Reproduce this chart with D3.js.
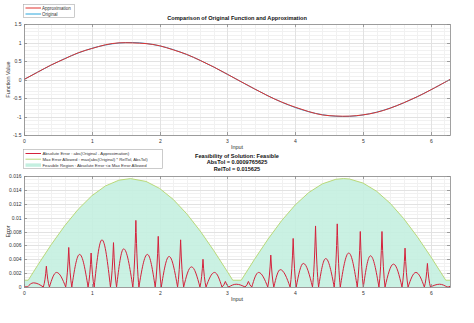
<!DOCTYPE html>
<html>
<head>
<meta charset="utf-8">
<script src="https://cdn.jsdelivr.net/npm/d3@7"></script>
<style>
  html, body { margin: 0; padding: 0; background: #ffffff; }
  svg { display: block; font-family: "Liberation Sans", Arial, sans-serif; }
</style>
</head>
<body>
<svg id="chart" width="474" height="323"></svg>
<script>
// ---- data -------------------------------------------------------------
const sampleX = [0, 0.2, 0.4, 0.6, 0.8, 1.0, 1.2, 1.4, 1.6, 1.8, 2.0, 2.2, 2.4, 2.6, 2.8, 3.0,
  3.2, 3.4, 3.6, 3.8, 4.0, 4.2, 4.4, 4.6, 4.8, 5.0, 5.2, 5.4, 5.6, 5.8, 6.0, 6.2, 6.2832];
const originalValues = [0, 0.1987, 0.3894, 0.5646, 0.7174, 0.8415, 0.9320, 0.9854, 0.9996, 0.9738,
  0.9093, 0.8085, 0.6755, 0.5155, 0.3350, 0.1411, -0.0584, -0.2555, -0.4425, -0.6119, -0.7568,
  -0.8716, -0.9516, -0.9937, -0.9962, -0.9589, -0.8835, -0.7728, -0.6313, -0.4646, -0.2794, -0.0831, 0];
const approxValues = [0, 0.196, 0.392, 0.559, 0.722, 0.837, 0.938, 0.990, 0.990, 0.970,
  0.912, 0.802, 0.678, 0.514, 0.337, 0.141, -0.058, -0.254, -0.444, -0.610, -0.749,
  -0.868, -0.957, -0.987, -0.991, -0.956, -0.888, -0.776, -0.630, -0.466, -0.280, -0.083, 0];

// Max error allowed : max(abs(Original) * RelTol, AbsTol)
const maxErrX = [0, 0.0625, 0.2, 0.4, 0.6, 0.8, 1.0, 1.2, 1.4, 1.5708, 1.8, 2.0, 2.2, 2.4, 2.6, 2.8, 3.0,
  3.079, 3.204, 3.4, 3.6, 3.8, 4.0, 4.2, 4.4, 4.6, 4.7124, 4.8, 5.0, 5.2, 5.4, 5.6, 5.8, 6.0, 6.2, 6.2207, 6.2832];
const maxErrValues = [0.000977, 0.000977, 0.003104, 0.006085, 0.008822, 0.011209, 0.013148, 0.014563,
  0.015397, 0.015625, 0.015216, 0.014208, 0.012633, 0.010554, 0.008055, 0.005234, 0.002205,
  0.000977, 0.000977, 0.003992, 0.006914, 0.009561, 0.011825, 0.013618, 0.014869, 0.015527,
  0.015625, 0.015566, 0.014983, 0.013805, 0.012075, 0.009864, 0.007259, 0.004366, 0.001299,
  0.000977, 0.000977];

// Absolute error : the trace touches zero at errZeroX; between two zeros sits one peak.
// Peaks alternate between rounded lobes (mid-interval) and sharp cusps (at the breakpoints).
const errStart = 0.0002;
const errEnd = 0.0001;
const errZeroX = [0.05, 0.285, 0.375, 0.615, 0.705, 0.945, 1.035, 1.275, 1.365, 1.605, 1.695,
  1.935, 2.025, 2.265, 2.355, 2.595, 2.685, 2.92, 3.02, 3.26, 3.36, 3.595, 3.685, 3.925, 4.015,
  4.255, 4.345, 4.575, 4.665, 4.915, 5.005, 5.235, 5.325, 5.575, 5.665, 5.905, 5.995, 6.24];
const errPeakX = [0.14, 0.33, 0.48, 0.66, 0.82, 0.99, 1.15, 1.32, 1.47, 1.65, 1.82, 1.98, 2.14,
  2.31, 2.47, 2.64, 2.81, 2.97, 3.13, 3.31, 3.46, 3.64, 3.78, 3.97, 4.12, 4.30, 4.45, 4.62, 4.79,
  4.96, 5.11, 5.28, 5.45, 5.62, 5.78, 5.95, 6.13];
const errPeakValues = [0.0006, 0.0030, 0.0021, 0.0057, 0.0047, 0.0049, 0.0068, 0.0064, 0.0055,
  0.0096, 0.0047, 0.0073, 0.0044, 0.0068, 0.0029, 0.0040, 0.0021, 0.0008, 0.0004, 0.0008, 0.0021,
  0.0046, 0.0025, 0.0070, 0.0034, 0.0088, 0.0041, 0.0091, 0.0049, 0.0080, 0.0045, 0.0080, 0.0033,
  0.0056, 0.0021, 0.0034, 0.0004];
const errPeakKind = ["lobe", "cusp", "lobe", "cusp", "lobe", "cusp", "lobe", "cusp", "lobe", "cusp",
  "lobe", "cusp", "lobe", "cusp", "lobe", "cusp", "lobe", "cusp", "lobe", "cusp", "lobe", "cusp",
  "lobe", "cusp", "lobe", "cusp", "lobe", "cusp", "lobe", "cusp", "lobe", "cusp", "lobe", "cusp",
  "lobe", "cusp", "lobe"];

const xTicks = [0, 1, 2, 3, 4, 5, 6];
const topYTicks = [-1.5, -1, -0.5, 0, 0.5, 1, 1.5];
const bottomYTicks = [0, 0.002, 0.004, 0.006, 0.008, 0.01, 0.012, 0.014, 0.016];

const topTitle = "Comparison of Original Function and Approximation";
const bottomTitle = ["Feasibility of Solution: Feasible", "AbsTol = 0.0009765625", "RelTol = 0.015625"];
const topLegend = ["Approximation", "Original"];
const bottomLegend = ["Absolute Error : abs(Original - Approximation)",
  "Max Error Allowed : max(abs(Original) * RelTol, AbsTol)",
  "Feasible Region : Absolute Error <= Max Error Allowed"];

// ---- styling ----------------------------------------------------------
const C = {
  approx: "#e0322e",
  original: "#2aa6dc",
  err: "#d4223c",
  maxErr: "#b9d97a",
  region: "#c4efe0",
  axis: "#8a8a8a",
  grid: "#e2e2e2",
  minor: "#f1f1f1",
  text: "#333333"
};
const svg = d3.select("#chart");
const left = 24, right = 450;

const x = d3.scaleLinear().domain([0, 2 * Math.PI]).range([left, right]);
const yTop = d3.scaleLinear().domain([-1.5, 1.5]).range([135, 24]);
const yBot = d3.scaleLinear().domain([0, 0.016]).range([287, 176]);

function frame(y, yTicks, minorY) {
  const [y1, y0] = y.range();
  const g = svg.append("g");
  // minor grid
  d3.range(0, 6.3, 0.2).forEach(v => {
    if (Math.abs(v - Math.round(v)) < 1e-6) return;
    g.append("line").attr("x1", Math.round(x(v)) + 0.5).attr("x2", Math.round(x(v)) + 0.5)
      .attr("y1", y0).attr("y2", y1).attr("stroke", C.minor).attr("stroke-width", 1);
  });
  minorY.forEach(v => {
    g.append("line").attr("y1", Math.round(y(v)) + 0.5).attr("y2", Math.round(y(v)) + 0.5)
      .attr("x1", left).attr("x2", right).attr("stroke", C.minor).attr("stroke-width", 1);
  });
  // major grid
  xTicks.forEach(v => {
    g.append("line").attr("x1", Math.round(x(v)) + 0.5).attr("x2", Math.round(x(v)) + 0.5)
      .attr("y1", y0).attr("y2", y1).attr("stroke", C.grid);
  });
  yTicks.forEach(v => {
    g.append("line").attr("y1", Math.round(y(v)) + 0.5).attr("y2", Math.round(y(v)) + 0.5)
      .attr("x1", left).attr("x2", right).attr("stroke", C.grid);
  });
}

function axes(y, yTicks, fmt) {
  const [y1, y0] = y.range();
  const g = svg.append("g");
  g.append("rect").attr("x", left + 0.5).attr("y", y0 + 0.5)
    .attr("width", right - left).attr("height", y1 - y0)
    .attr("fill", "none").attr("stroke", C.axis).attr("stroke-width", 0.8);
  xTicks.forEach(v => {
    const px = Math.round(x(v)) + 0.5;
    g.append("line").attr("x1", px).attr("x2", px).attr("y1", y1).attr("y2", y1 - 3).attr("stroke", C.axis).attr("stroke-width", 0.8);
    g.append("line").attr("x1", px).attr("x2", px).attr("y1", y0).attr("y2", y0 + 3).attr("stroke", C.axis).attr("stroke-width", 0.8);
    g.append("text").attr("x", px).attr("y", y1 + 7.5).attr("text-anchor", "middle")
      .attr("font-size", 5).attr("fill", C.text).text(v);
  });
  yTicks.forEach(v => {
    const py = Math.round(y(v)) + 0.5;
    g.append("line").attr("x1", left).attr("x2", left + 3).attr("y1", py).attr("y2", py).attr("stroke", C.axis).attr("stroke-width", 0.8);
    g.append("line").attr("x1", right).attr("x2", right - 3).attr("y1", py).attr("y2", py).attr("stroke", C.axis).attr("stroke-width", 0.8);
    g.append("text").attr("x", left - 2.5).attr("y", py + 1.8).attr("text-anchor", "end")
      .attr("font-size", 5).attr("fill", C.text).text(fmt(v));
  });
  g.append("text").attr("x", (left + right) / 2).attr("y", y1 + 14).attr("text-anchor", "middle")
    .attr("font-size", 5.5).attr("fill", C.text).text("Input");
}

// ---- top panel: function values ---------------------------------------
frame(yTop, topYTicks, d3.range(-1.4, 1.45, 0.1).filter(v => Math.abs(v * 2 - Math.round(v * 2)) > 1e-6));

const sinLine = d3.line().x(d => x(d[0])).y(d => yTop(d[1])).curve(d3.curveNatural);
svg.append("path").attr("d", sinLine(sampleX.map((v, i) => [v, originalValues[i]])))
  .attr("fill", "none").attr("stroke", C.original).attr("stroke-width", 1);
svg.append("path").attr("d", sinLine(sampleX.map((v, i) => [v, approxValues[i]])))
  .attr("fill", "none").attr("stroke", C.approx).attr("stroke-width", 1);

axes(yTop, topYTicks, d => String(d));
svg.append("text").attr("x", (left + right) / 2).attr("y", 20).attr("text-anchor", "middle")
  .attr("font-size", 5.6).attr("font-weight", "bold").attr("fill", "#111").text(topTitle);
svg.append("text").attr("transform", `translate(9.5,${(24 + 135) / 2}) rotate(-90)`)
  .attr("text-anchor", "middle").attr("font-size", 5.5).attr("fill", C.text).text("Function Value");

// top legend
{
  const g = svg.append("g");
  g.append("rect").attr("x", 23.5).attr("y", 4.5).attr("width", 51).attr("height", 13)
    .attr("fill", "#fff").attr("stroke", "#a8a8a8").attr("stroke-width", 0.6);
  [C.approx, C.original].forEach((c, i) => {
    const yy = 8 + i * 6;
    g.append("line").attr("x1", 25.5).attr("x2", 41).attr("y1", yy).attr("y2", yy).attr("stroke", c).attr("stroke-width", 1);
    g.append("text").attr("x", 42).attr("y", yy + 1.6).attr("font-size", 4.5).attr("fill", C.text).text(topLegend[i]);
  });
}

// ---- bottom panel: error vs. allowed error ------------------------------
frame(yBot, bottomYTicks, d3.range(0.0005, 0.016, 0.0005).filter(v => Math.abs(v / 0.002 - Math.round(v / 0.002)) > 1e-6));

const maxPts = maxErrX.map((v, i) => [v, maxErrValues[i]]);
svg.append("path")
  .attr("d", d3.area().x(d => x(d[0])).y0(yBot(0)).y1(d => yBot(d[1]))(maxPts))
  .attr("fill", C.region).attr("fill-opacity", 0.9);
svg.append("path")
  .attr("d", d3.line().x(d => x(d[0])).y(d => yBot(d[1]))(maxPts))
  .attr("fill", "none").attr("stroke", C.maxErr).attr("stroke-width", 1);

// error trace: lobes as sine-shaped arches, cusps with concave flanks
{
  const p = d3.path();
  const X = v => x(v), Y = v => yBot(v);
  p.moveTo(X(0), Y(errStart));
  p.quadraticCurveTo(X(0.02), Y(0), X(errZeroX[0]), Y(0));
  errPeakX.forEach((px, i) => {
    const z0 = errZeroX[i], z1 = errZeroX[i + 1], h = errPeakValues[i];
    if (errPeakKind[i] === "lobe") {
      const a = px - z0, b = z1 - px;
      p.bezierCurveTo(X(z0 + 0.326 * a), Y(0.5126 * h), X(z0 + 0.638 * a), Y(h), X(px), Y(h));
      p.bezierCurveTo(X(px + 0.362 * b), Y(h), X(px + 0.674 * b), Y(0.5126 * h), X(z1), Y(0));
    } else {
      p.quadraticCurveTo(X(z0 + (px - z0) * 0.6), Y(h * 0.25), X(px), Y(h));
      p.quadraticCurveTo(X(px + (z1 - px) * 0.4), Y(h * 0.25), X(z1), Y(0));
    }
  });
  p.quadraticCurveTo(X(6.265), Y(0), X(2 * Math.PI), Y(errEnd));
  svg.append("path").attr("d", p.toString())
    .attr("fill", "none").attr("stroke", C.err).attr("stroke-width", 1).attr("stroke-linejoin", "round");
}

axes(yBot, bottomYTicks, d => d === 0 ? "0" : d3.format(".3~f")(d));
bottomTitle.forEach((t, i) => {
  svg.append("text").attr("x", (left + right) / 2).attr("y", 157.5 + i * 6.8).attr("text-anchor", "middle")
    .attr("font-size", 5.6).attr("font-weight", "bold").attr("fill", "#111").text(t);
});
svg.append("text").attr("transform", `translate(9.5,${(176 + 287) / 2}) rotate(-90)`)
  .attr("text-anchor", "middle").attr("font-size", 5.5).attr("fill", C.text).text("Error");

// bottom legend
{
  const g = svg.append("g");
  g.append("rect").attr("x", 23.5).attr("y", 149.5).attr("width", 139).attr("height", 19)
    .attr("fill", "#fff").attr("stroke", "#a8a8a8").attr("stroke-width", 0.6);
  [C.err, C.maxErr].forEach((c, i) => {
    const yy = 153.5 + i * 5.7;
    g.append("line").attr("x1", 25.5).attr("x2", 41).attr("y1", yy).attr("y2", yy).attr("stroke", c).attr("stroke-width", 1);
    g.append("text").attr("x", 42.5).attr("y", yy + 1.5).attr("font-size", 4.3).attr("fill", C.text).text(bottomLegend[i]);
  });
  g.append("rect").attr("x", 25.5).attr("y", 163.4).attr("width", 15.5).attr("height", 3.4).attr("fill", C.region);
  g.append("text").attr("x", 42.5).attr("y", 166.6).attr("font-size", 4.3).attr("fill", C.text).text(bottomLegend[2]);
}
</script>
</body>
</html>
